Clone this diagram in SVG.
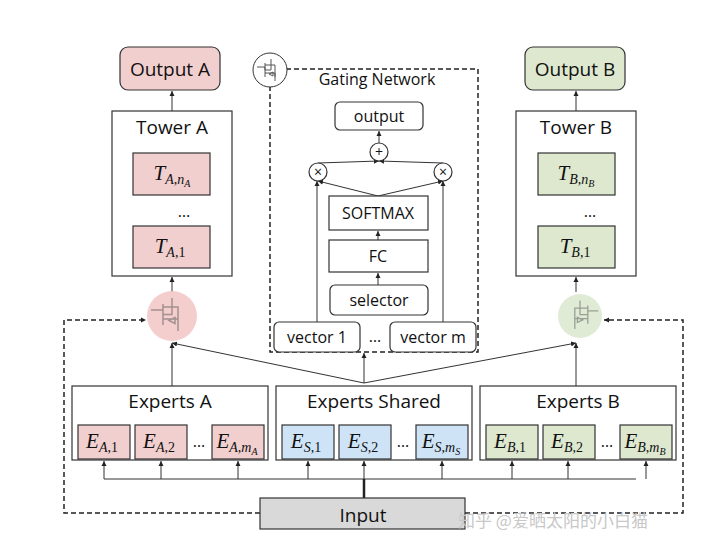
<svg xmlns="http://www.w3.org/2000/svg" width="708" height="552" viewBox="0 0 708 552">
<defs>
<marker id="ar" markerWidth="6" markerHeight="6" refX="5" refY="3" orient="auto" markerUnits="userSpaceOnUse"><path d="M0,0.5 L5,3 L0,5.5 z" fill="#222"/></marker>
<g id="gate" fill="none" stroke="#555" stroke-width="1">
<path d="M-14,-4 H-6 V6 M-6,-8 V-1 H0 V-12 M-6,2 H4 V10 M-6,-6 H4 V-1 M-2,3 L2,1 V5 Z M4,-1 V6"/>
</g>
</defs>
<style>
text{font-family:"Open Sans","Noto Sans","Liberation Sans",sans-serif;fill:#111}
.t{font-size:19px;text-anchor:middle}
.m{font-family:"Liberation Serif",serif;font-style:italic;font-size:21px;text-anchor:middle}
.m tspan{font-size:14px;font-style:normal}
.m tspan.i{font-style:italic}
.m tspan.k{font-size:10px;font-style:italic}
.s{font-size:16px;text-anchor:middle}
.box{fill:#fff;stroke:#333;stroke-width:1.2}
.pk{fill:#f2cfcf;stroke:#333;stroke-width:1.2}
.bl{fill:#cfe3f7;stroke:#333;stroke-width:1.2}
.gr{fill:#dde8cf;stroke:#333;stroke-width:1.2}
.ln{stroke:#333;stroke-width:1;fill:none}
.d{stroke:#222;stroke-width:1.5;fill:none;stroke-dasharray:5,3}
</style>
<rect width="708" height="552" fill="#fff"/>

<g id="connectors">
<path class="ln" d="M104,479 H636"/>
<path d="M364,479 V498" stroke="#222" stroke-width="2.5"/>
<g marker-end="url(#ar)" class="ln">
<path d="M104,479 V461"/><path d="M161,479 V461"/><path d="M238,479 V461"/>
<path d="M308,479 V461"/><path d="M364,479 V461"/><path d="M442,479 V461"/>
<path d="M512,479 V461"/><path d="M568,479 V461"/><path d="M646,479 V461"/>
<path d="M172,386 V343"/><path d="M364,383 L172,343"/><path d="M364,383 L576,343"/><path d="M364,383 V353"/><path d="M576,386 V343"/>
<path d="M172,292 V277"/><path d="M172,111 V91"/><path d="M172,226 V196"/>
<path d="M576,292 V277"/><path d="M576,111 V91"/><path d="M576,226 V196"/>
<path d="M317,322 V181"/><path d="M443,322 V181"/>
<path d="M378,196 L318,181"/><path d="M378,196 L443,181"/>
<path d="M318,163 L379,161"/><path d="M443,163 L379,161"/>
<path d="M379,143 V131"/>
<path d="M378,240 V231"/><path d="M378,285 V273"/>
</g>
<path class="d" marker-end="url(#ar)" d="M260,513 H64 V320 H146"/>
<path class="d" marker-end="url(#ar)" d="M465,513 H683 V320 H604"/>
</g>

<g id="outputA"><rect class="pk" x="120" y="47" width="100" height="43" rx="8"/><text class="t" x="170" y="76">Output A</text></g>
<g id="outputB"><rect class="gr" x="525" y="47" width="100" height="43" rx="8"/><text class="t" x="575" y="76">Output B</text></g>

<g id="towerA"><rect class="box" x="112" y="111" width="120" height="165"/><text class="t" x="172" y="134">Tower A</text>
<rect class="pk" x="133" y="153" width="77" height="42"/><text class="m" x="172" y="180">T<tspan dy="4" class="i">A</tspan><tspan>,</tspan><tspan class="i">n</tspan><tspan class="k" dy="3">A</tspan></text>
<text class="s" x="184" y="217">…</text>
<rect class="pk" x="133" y="226" width="77" height="42"/><text class="m" x="170" y="253">T<tspan dy="4" class="i">A</tspan><tspan>,1</tspan></text></g>

<g id="towerB"><rect class="box" x="516" y="111" width="120" height="165"/><text class="t" x="576" y="134">Tower B</text>
<rect class="gr" x="538" y="153" width="77" height="42"/><text class="m" x="576" y="180">T<tspan dy="4" class="i">B</tspan><tspan>,</tspan><tspan class="i">n</tspan><tspan class="k" dy="3">B</tspan></text>
<text class="s" x="590" y="217">…</text>
<rect class="gr" x="538" y="226" width="77" height="42"/><text class="m" x="575" y="253">T<tspan dy="4" class="i">B</tspan><tspan>,1</tspan></text></g>

<g id="gateA"><circle cx="172" cy="316" r="25" fill="#f2c4c4" opacity="0.85"/><g transform="translate(172,316) scale(1.5)" opacity="0.5"><use href="#gate"/></g></g>
<g id="gateB"><circle cx="580" cy="316" r="22" fill="#dde9d2" opacity="0.9"/><g transform="translate(580,316) scale(-1.3,1.3)" opacity="0.5"><use href="#gate"/></g></g>

<g id="gating">
<rect class="d" x="270" y="69" width="208" height="283"/>
<circle cx="270" cy="70" r="17" fill="#fff" stroke="#333"/><use href="#gate" x="271" y="71"/>
<text class="s" x="377" y="85">Gating Network</text>
<rect class="box" x="335" y="102" width="88" height="28" rx="5"/><text class="s" x="379" y="122">output</text>
<circle cx="379" cy="152" r="9" class="box"/><text x="379" y="157" font-size="14" text-anchor="middle">+</text>
<circle cx="318" cy="172" r="9" class="box"/><text x="318" y="177" font-size="14" text-anchor="middle">×</text>
<circle cx="443" cy="172" r="9" class="box"/><text x="443" y="177" font-size="14" text-anchor="middle">×</text>
<rect class="box" x="329" y="196" width="99" height="34"/><text class="s" x="378" y="219">SOFTMAX</text>
<rect class="box" x="329" y="240" width="99" height="32"/><text class="s" x="378" y="262">FC</text>
<rect class="box" x="330" y="285" width="98" height="30" rx="5"/><text class="s" x="379" y="306">selector</text>
<rect class="box" x="274" y="322" width="86" height="30" rx="5"/><text class="s" x="317" y="343">vector 1</text>
<text class="s" x="375" y="342">…</text>
<rect class="box" x="390" y="322" width="86" height="30" rx="5"/><text class="s" x="433" y="343">vector m</text>
</g>

<g id="expertsA"><rect class="box" x="72" y="386" width="196" height="74"/><text class="t" x="170" y="408">Experts A</text>
<rect class="pk" x="78" y="425" width="52" height="34"/><text class="m" x="102" y="448">E<tspan dy="4" class="i">A</tspan><tspan>,1</tspan></text>
<rect class="pk" x="135" y="425" width="52" height="34"/><text class="m" x="159" y="448">E<tspan dy="4" class="i">A</tspan><tspan>,2</tspan></text>
<text class="s" x="199" y="447">…</text>
<rect class="pk" x="212" y="425" width="52" height="34"/><text class="m" x="237" y="448">E<tspan dy="4" class="i">A</tspan><tspan>,</tspan><tspan class="i">m</tspan><tspan class="k" dy="3">A</tspan></text></g>

<g id="expertsS"><rect class="box" x="276" y="386" width="196" height="74"/><text class="t" x="374" y="408">Experts Shared</text>
<rect class="bl" x="282" y="425" width="52" height="34"/><text class="m" x="306" y="448">E<tspan dy="4" class="i">S</tspan><tspan>,1</tspan></text>
<rect class="bl" x="339" y="425" width="52" height="34"/><text class="m" x="363" y="448">E<tspan dy="4" class="i">S</tspan><tspan>,2</tspan></text>
<text class="s" x="403" y="447">…</text>
<rect class="bl" x="416" y="425" width="52" height="34"/><text class="m" x="441" y="448">E<tspan dy="4" class="i">S</tspan><tspan>,</tspan><tspan class="i">m</tspan><tspan class="k" dy="3">S</tspan></text></g>

<g id="expertsB"><rect class="box" x="480" y="386" width="196" height="74"/><text class="t" x="578" y="408">Experts B</text>
<rect class="gr" x="486" y="425" width="52" height="34"/><text class="m" x="510" y="448">E<tspan dy="4" class="i">B</tspan><tspan>,1</tspan></text>
<rect class="gr" x="543" y="425" width="52" height="34"/><text class="m" x="567" y="448">E<tspan dy="4" class="i">B</tspan><tspan>,2</tspan></text>
<text class="s" x="607" y="447">…</text>
<rect class="gr" x="620" y="425" width="52" height="34"/><text class="m" x="645" y="448">E<tspan dy="4" class="i">B</tspan><tspan>,</tspan><tspan class="i">m</tspan><tspan class="k" dy="3">B</tspan></text></g>

<g id="input"><rect x="260" y="498" width="205" height="31" fill="#d9d9d9" stroke="#333" stroke-width="1.2"/><text class="t" x="363" y="522">Input</text></g>
<text x="458" y="527" font-size="17" style="fill:#c8c8c8;font-family:'Noto Sans CJK SC',sans-serif">知乎 @爱晒太阳的小白猫</text>
</svg>
